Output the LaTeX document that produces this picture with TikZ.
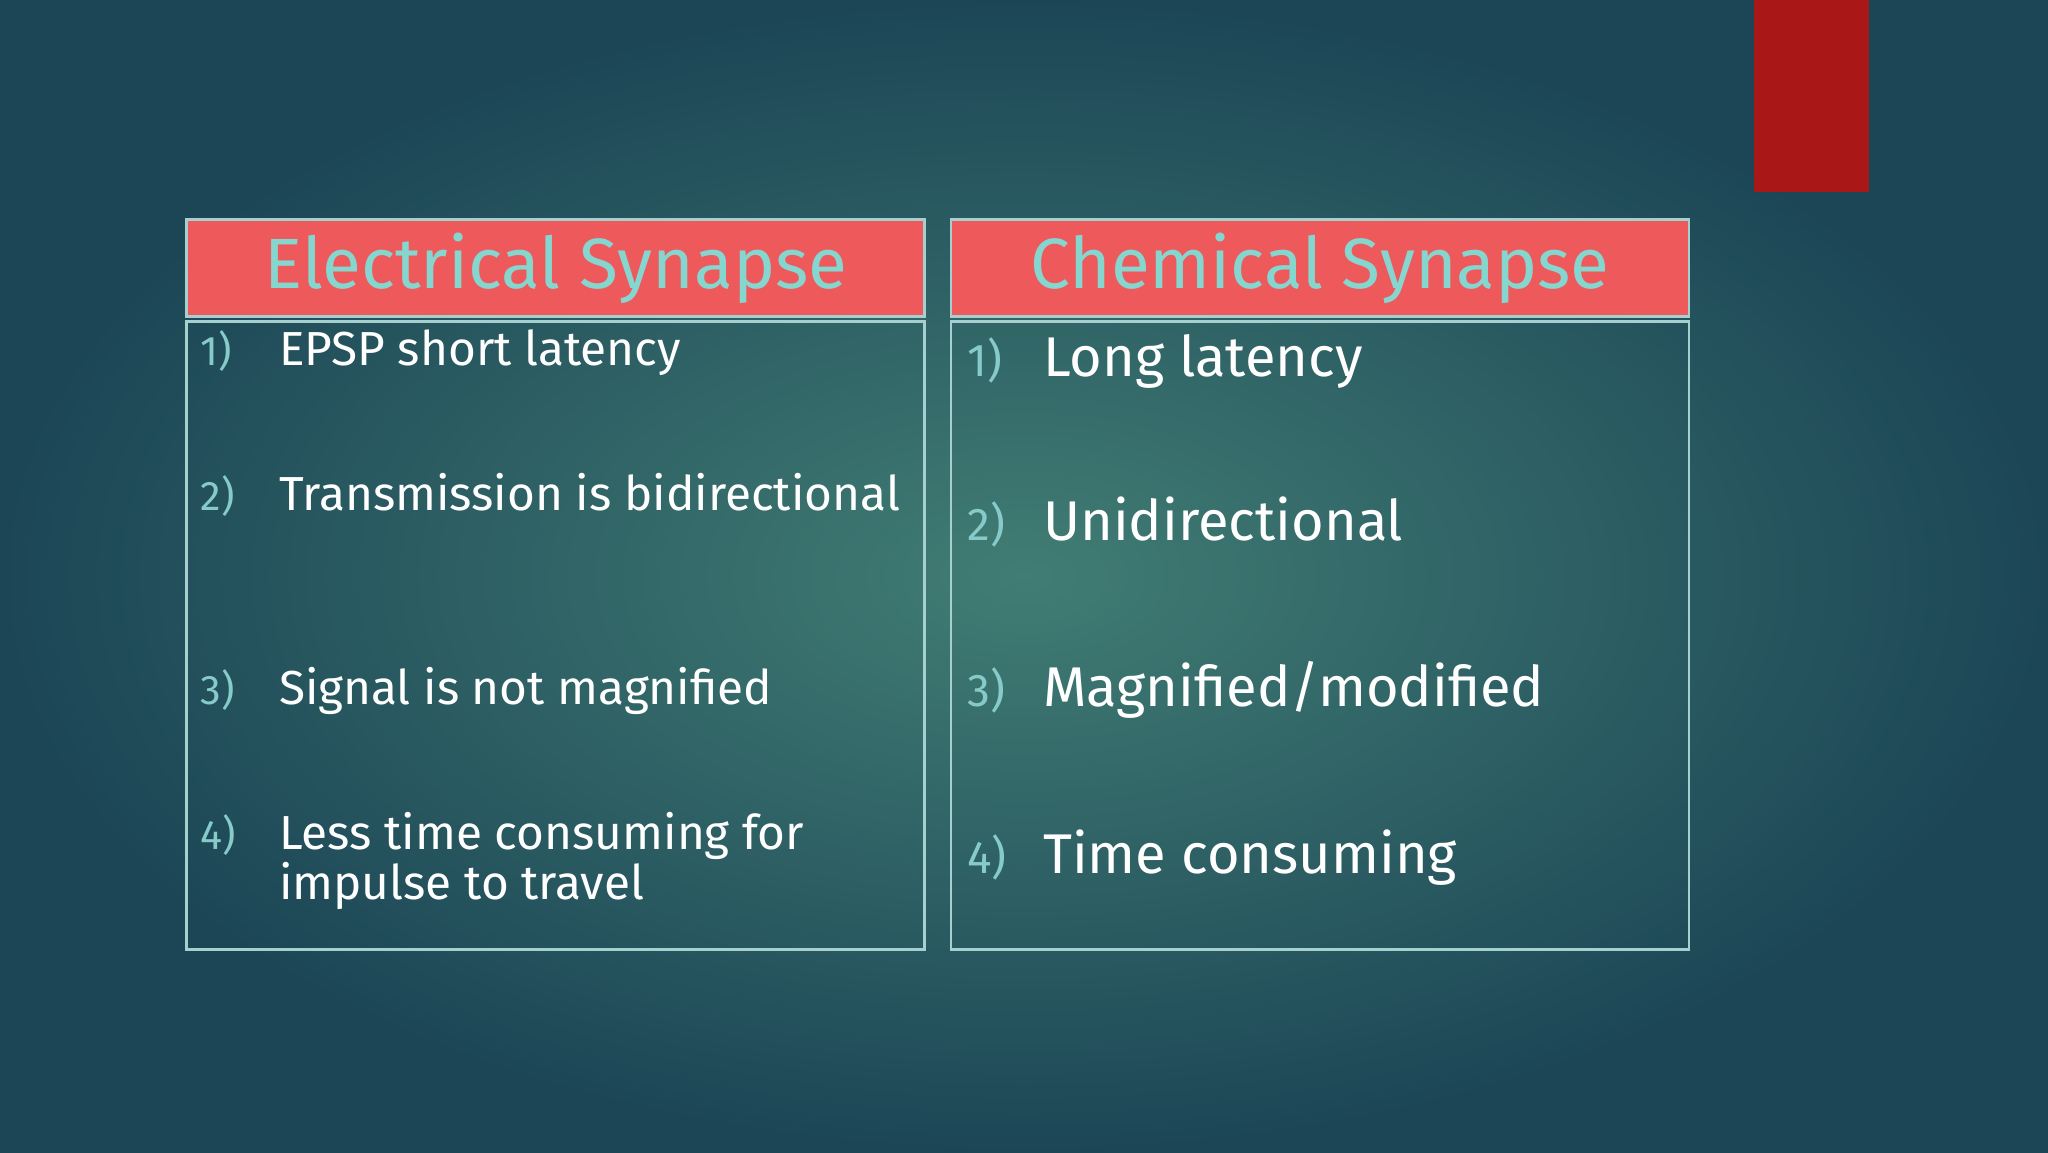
\documentclass[tikz,border=0pt]{standalone}
\usepackage{fontspec}
\setmainfont{Fira Sans}
\usetikzlibrary{positioning}
\definecolor{bgout}{HTML}{1C4656}
\definecolor{bgin}{HTML}{417D74}
\definecolor{hdr}{HTML}{EE5A5C}
\definecolor{hdrtxt}{HTML}{86D6D0}
\definecolor{boxline}{HTML}{A6CFCF}
\definecolor{numc}{HTML}{86CACA}
\definecolor{redbar}{HTML}{AA1717}
\tikzset{
 hdrbox/.style={draw=boxline,fill=hdr,line width=0.6pt,minimum width=5.65cm,minimum height=0.74cm,anchor=north west,inner sep=0pt,text=hdrtxt,font=\fontsize{15.5}{18}\selectfont},
 bodybox/.style={draw=boxline,line width=0.6pt,minimum width=5.65cm,minimum height=4.81cm,anchor=north west,inner sep=0pt},
 numl/.style={anchor=base west,text=numc,font=\fontsize{9}{11}\selectfont,inner sep=0pt},
 iteml/.style={anchor=base west,text=white,font=\fontsize{10.4}{13}\selectfont,inner sep=0pt,align=left},
 numr/.style={anchor=base west,text=numc,font=\fontsize{10}{12}\selectfont,inner sep=0pt},
 itemr/.style={anchor=base west,text=white,font=\fontsize{12.2}{15}\selectfont,inner sep=0pt}
}
\begin{document}
\begin{tikzpicture}[x=1cm,y=-1cm]
\useasboundingbox (0,0) rectangle (15.68,8.82);
\shade[inner color=bgin,outer color=bgout] (0,0) rectangle (15.68,8.82);
\fill[redbar] (13.43,0) rectangle (14.31,1.47);
\node[hdrbox] (lh) at (1.42,1.67) {Electrical Synapse};
\node[hdrbox] (rh) at (7.27,1.67) {Chemical Synapse};
\node[bodybox] (lb) at (1.42,2.45) {};
\node[bodybox] (rb) at (7.27,2.45) {};
\node[numl] (ln1) at (1.53,2.80) {1)};
\node[iteml] (l1) at (2.13,2.80) {EPSP short latency};
\node[numl] (ln2) at (1.53,3.91) {2)};
\node[iteml] (l2) at (2.13,3.91) {Transmission is bidirectional};
\node[numl] (ln3) at (1.53,5.39) {3)};
\node[iteml] (l3) at (2.13,5.39) {Signal is not magnified};
\node[numl] (ln4) at (1.53,6.50) {4)};
\node[iteml] (l4) at (2.13,6.50) {Less time consuming for};
\node[iteml] (l4b) at (2.13,6.89) {impulse to travel};
\node[numr] (rn1) at (7.40,2.88) {1)};
\node[itemr] (r1) at (7.98,2.88) {Long latency};
\node[numr] (rn2) at (7.40,4.14) {2)};
\node[itemr] (r2) at (7.98,4.14) {Unidirectional};
\node[numr] (rn3) at (7.40,5.41) {3)};
\node[itemr] (r3) at (7.98,5.41) {Magnified/modified};
\node[numr] (rn4) at (7.40,6.69) {4)};
\node[itemr] (r4) at (7.98,6.69) {Time consuming};
\end{tikzpicture}
\end{document}
